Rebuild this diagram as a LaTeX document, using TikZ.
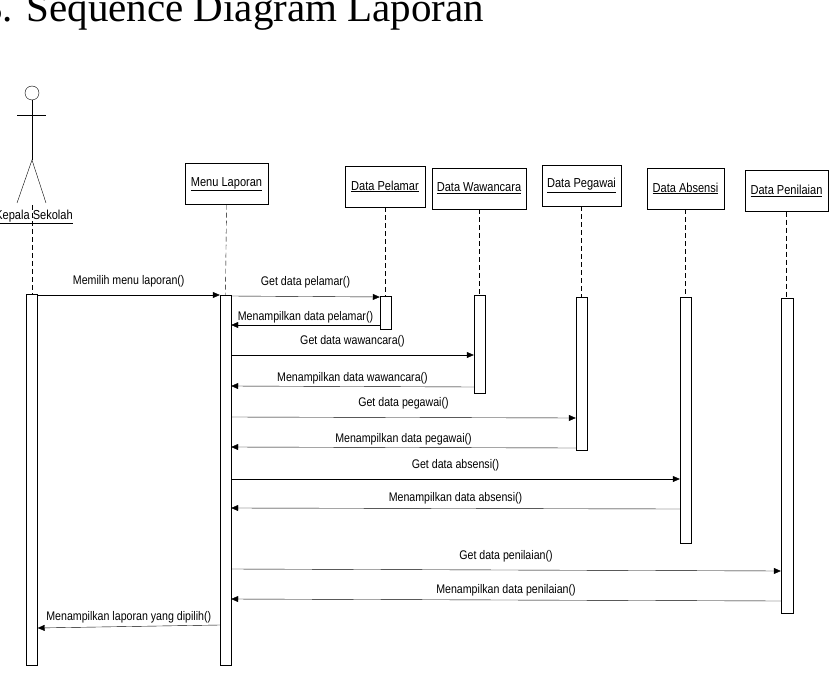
\documentclass[tikz,border=0pt]{standalone}
\usepackage{fontspec}
\setmainfont{Liberation Sans}[FakeStretch=0.85]
\newfontfamily\titlefont{Liberation Serif}
\usetikzlibrary{arrows.meta}
\begin{document}
\begin{tikzpicture}[x=1pt,y=-1pt,
  obj/.style={draw,fill=white,minimum height=41pt,inner sep=2pt,font=\fontsize{13}{14}\selectfont},
  act/.style={draw,fill=white},
  life/.style={dashed,dash pattern=on 5pt off 3pt},
  msg/.style={-{Triangle[length=7pt,width=6pt]}},
  lbl/.style={font=\fontsize{12.5}{14}\selectfont,above,inner sep=2pt}]
\useasboundingbox (0,0) rectangle (834,700);
\clip (0,0) rectangle (834,700);
\node[anchor=base west,inner sep=0,font=\titlefont\fontsize{41}{44}\selectfont] (title) at (-18,22) {3. Sequence Diagram Laporan};
% actor
\draw (32,93) circle (7);
\draw (17,115) -- (46,115);
\draw (32,100) -- (32,160);
\draw (17,203) -- (32,160) -- (46,203);
\node[font=\fontsize{13}{14}\selectfont] (ks) at (34,217) {\underline{Kepala Sekolah}};
% objects
\node[obj,minimum width=83pt] (ml) at (226.5,184) {\underline{Menu Laporan}};
\node[obj,minimum width=80pt] (dp) at (385,186.5) {\underline{Data Pelamar}};
\node[obj,minimum width=94pt] (dw) at (479,188.5) {\underline{Data Wawancara}};
\node[obj,minimum width=79pt] (dg) at (581.5,185.5) {\underline{Data Pegawai}};
\node[obj,minimum width=77pt] (da) at (685.5,188.5) {\underline{Data Absensi}};
\node[obj,minimum width=83pt] (dn) at (786.5,191) {\underline{Data Penilaian}};
% lifelines
\coordinate (l0) at (32,294);
\draw[life] (32,205) -- (l0);
\draw[life] (ml.south) -- (225.5,295);
\draw[life] (dp.south) -- (385,296);
\draw[life] (dw.south) -- (479,295);
\draw[life] (dg.south) -- (581.5,297);
\draw[life] (da.south) -- (685.5,297);
\draw[life] (dn.south) -- (786.5,298);
% activations
\node[act,minimum width=11pt,minimum height=371pt,inner sep=0,anchor=north] (a0) at (32,294) {};
\node[act,minimum width=11pt,minimum height=370pt,inner sep=0,anchor=north] (a1) at (225.5,295) {};
\node[act,minimum width=11pt,minimum height=33pt,inner sep=0,anchor=north] (a2) at (385.5,296) {};
\node[act,minimum width=11pt,minimum height=98pt,inner sep=0,anchor=north] (a3) at (479.5,295) {};
\node[act,minimum width=11pt,minimum height=153pt,inner sep=0,anchor=north] (a4) at (581.5,297) {};
\node[act,minimum width=11pt,minimum height=246pt,inner sep=0,anchor=north] (a5) at (685.5,297) {};
\node[act,minimum width=12pt,minimum height=315pt,inner sep=0,anchor=north] (a6) at (787,298) {};
% messages
\draw[msg] (a0.east |- 0,295) -- node[lbl,pos=0.5,yshift=6pt]{Memilih menu laporan()} (a1.west |- 0,295);
\draw[msg] (a1.east |- 0,296) -- node[lbl,yshift=6pt]{Get data pelamar()} (a2.west |- 0,297);
\draw[msg] (a2.west |- 0,325) -- node[lbl]{Menampilkan data pelamar()} (a1.east |- 0,325);
\draw[msg] (a1.east |- 0,355) -- node[lbl,yshift=6pt]{Get data wawancara()} (a3.west |- 0,355);
\draw[msg] (a3.west |- 0,387) -- node[lbl]{Menampilkan data wawancara()} (a1.east |- 0,386);
\draw[msg] (a1.east |- 0,417) -- node[lbl,yshift=6pt]{Get data pegawai()} (a4.west |- 0,418);
\draw[msg] (a4.west |- 0,448) -- node[lbl]{Menampilkan data pegawai()} (a1.east |- 0,447);
\draw[msg] (a1.east |- 0,479) -- node[lbl,yshift=6pt]{Get data absensi()} (a5.west |- 0,479);
\draw[msg] (a5.west |- 0,509) -- node[lbl,yshift=2pt]{Menampilkan data absensi()} (a1.east |- 0,508);
\draw[msg] (a1.east |- 0,569) -- node[lbl,yshift=6pt]{Get data penilaian()} (a6.west |- 0,571);
\draw[msg] (a6.west |- 0,601) -- node[lbl,yshift=2pt]{Menampilkan data penilaian()} (a1.east |- 0,599);
\draw[msg] (a1.west |- 0,625) -- node[lbl,yshift=1pt]{Menampilkan laporan yang dipilih()} (a0.east |- 0,628);
\end{tikzpicture}
\end{document}
